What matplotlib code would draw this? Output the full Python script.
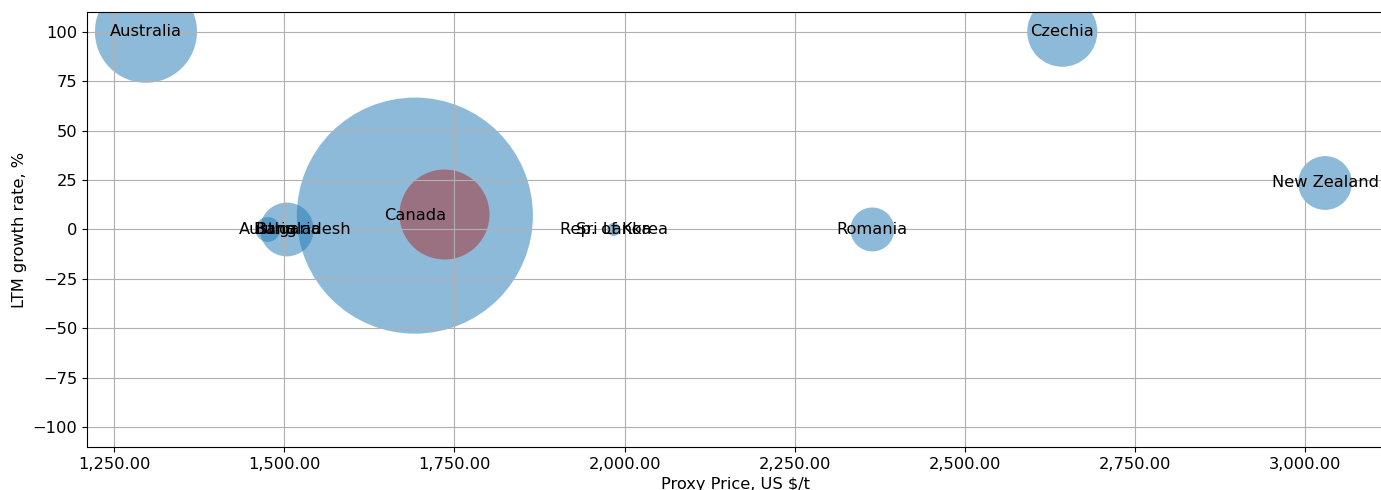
import matplotlib
matplotlib.use("Agg")
import matplotlib.pyplot as plt
from matplotlib.ticker import StrMethodFormatter

# Countries: proxy price (US $/t), LTM growth rate (%), bubble size (volume)
countries = ["Australia", "Austria", "Bulgaria", "Bangladesh", "Canada",
             "Sri Lanka", "Rep. of Korea", "Romania", "Czechia", "New Zealand"]
price = [1297, 1476, 1504, 1528, 1692, 1984, 1984, 2364, 2643, 3029]
growth = [100, 0, 0, 0, 7, 0, 0, 0, 100, 23.5]
volume = [5400, 320, 1500, 30, 28900, 90, 5, 1000, 2550, 1500]

# Highlighted (target) point
target_price = [1735]
target_growth = [7.7]
target_volume = [4200]

fig = plt.figure(figsize=(13.81, 4.9), dpi=100)
ax = fig.add_axes([0.063, 0.0878, 0.9392, 0.8878])

ax.scatter(price, growth, s=volume, color="#1f77b4", alpha=0.5, linewidths=0)
ax.scatter(target_price, target_growth, s=target_volume, color="brown",
           alpha=0.5, linewidths=0)

for name, x, y in zip(countries, price, growth):
    ax.annotate(name, (x, y), ha="center", va="center", fontsize=11.7)

ax.set_ylim(-110, 110)
ax.set_yticks(range(-100, 101, 25))
ax.xaxis.set_major_formatter(StrMethodFormatter("{x:,.2f}"))
ax.tick_params(labelsize=11.7)
ax.grid(True)
ax.set_xlabel("Proxy Price, US $/t", fontsize=11.7)
ax.set_ylabel("LTM growth rate, %", fontsize=11.7)

fig.savefig("out.png", dpi=100)
